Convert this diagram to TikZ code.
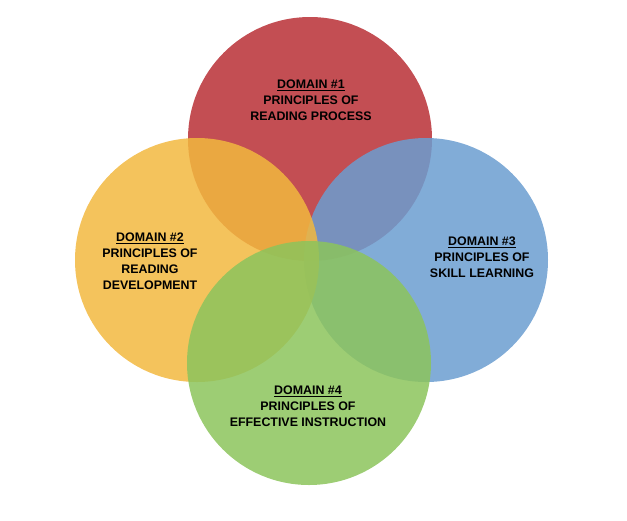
\documentclass[tikz,border=0pt]{standalone}
\usepackage{fontspec}
\setmainfont{Liberation Sans}
\definecolor{cred}{HTML}{C0454A}
\definecolor{cblue}{HTML}{6B9DD0}
\definecolor{corange}{HTML}{F2B83F}
\definecolor{cgreen}{HTML}{8CC45C}
\begin{document}
\begin{tikzpicture}[x=1pt,y=-1pt,
  circ/.style={fill opacity=0.85,draw=none},
  lbl/.style={font=\bfseries\fontsize{12.4}{16}\selectfont,align=center,text=black}]
\useasboundingbox (0,0) rectangle (627,520);
\fill[circ,cred,fill opacity=0.95] (310,139) circle (122);
\fill[circ,cblue] (426,260) circle (122);
\fill[circ,corange] (197,260) circle (122);
\fill[circ,cgreen] (309,363) circle (122);
\node[lbl] (d1) at (311,100) {\underline{DOMAIN \#1}\\PRINCIPLES OF\\READING PROCESS};
\node[lbl] (d2) at (150,261) {\underline{DOMAIN \#2}\\PRINCIPLES OF\\READING\\DEVELOPMENT};
\node[lbl] (d3) at (482,257) {\underline{DOMAIN \#3}\\PRINCIPLES OF\\SKILL LEARNING};
\node[lbl] (d4) at (308,406) {\underline{DOMAIN \#4}\\PRINCIPLES OF\\EFFECTIVE INSTRUCTION};
\end{tikzpicture}
\end{document}
